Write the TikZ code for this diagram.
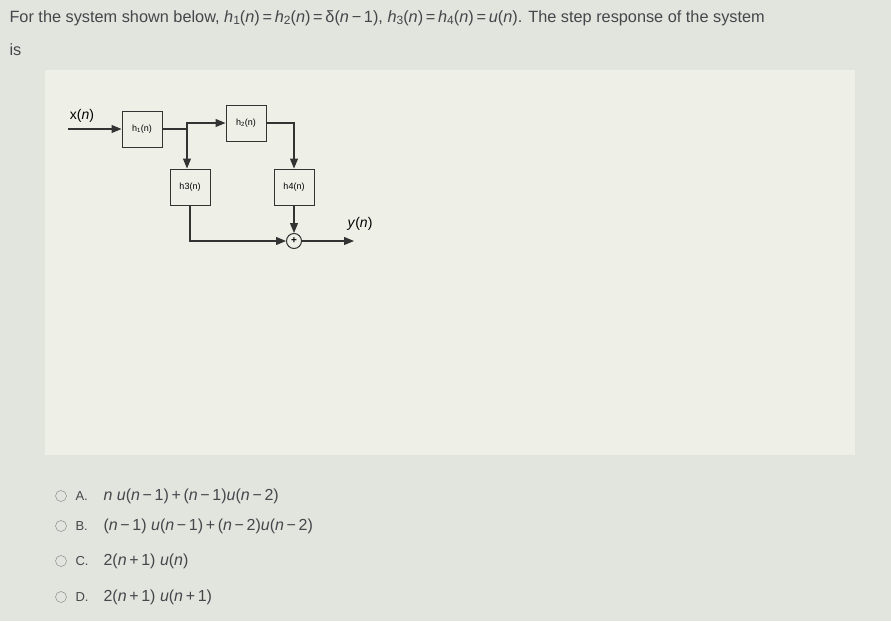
\documentclass[tikz,border=0pt]{standalone}
\usepackage{fontspec}
\setmainfont{Liberation Sans}
\usetikzlibrary{arrows.meta}
\definecolor{bg}{RGB}{226,228,222}
\definecolor{panel}{RGB}{238,240,232}
\definecolor{txt}{RGB}{70,70,75}
\newcommand{\vi}[1]{\textit{#1}}
\newcommand{\sbs}[1]{\raisebox{-0.3ex}{\fontsize{12}{12}\selectfont #1}}
\begin{document}
\begin{tikzpicture}[x=1pt,y=-1pt,
  blk/.style={draw=black!80,line width=1pt,minimum width=40pt,minimum height=36pt,inner sep=0pt,font=\fontsize{9}{10}\selectfont,fill=panel},
  con/.style={line width=1.1pt,draw=black!80},
  arr/.style={con,-{Triangle[length=10pt,width=8pt]}},
  q/.style={anchor=west,text=txt,font=\fontsize{16.3}{19}\selectfont},
  opt/.style={anchor=west,text=txt,font=\fontsize{16}{19}\selectfont}]
\fill[bg] (0,0) rectangle (891,621);
\fill[panel] (45,70) rectangle (855,455);
\node[q] (t1) at (6,18) {For the system shown below, \vi{h}\sbs{1}(\vi{n})\,=\,\vi{h}\sbs{2}(\vi{n})\,=\,δ(\vi{n}\,−\,1), \vi{h}\sbs{3}(\vi{n})\,=\,\vi{h}\sbs{4}(\vi{n})\,=\,\vi{u}(\vi{n}). The step response of the system};
\node[q] (t2) at (6,50) {is};
\node[blk] (h1) at (142,129) {h\textsubscript{1}(n)};
\node[blk] (h2) at (246,123) {h\textsubscript{2}(n)};
\node[blk] (h3) at (190,187) {h3(n)};
\node[blk] (h4) at (294,187) {h4(n)};
\node[draw=black!80,line width=1pt,circle,minimum size=15pt,inner sep=0pt,font=\bfseries] (s) at (294,241) {+};
\coordinate (xin) at (68,129);
\coordinate (j) at (187,129);
\coordinate (yout) at (354,241);
\node[font=\fontsize{14}{16}\selectfont] (xl) at (82,116) {x(\vi{n})};
\node[font=\fontsize{14}{16}\selectfont] (yl) at (360,224) {\vi{y}(\vi{n})};
\draw[arr] (xin) -- (h1.west);
\draw[con] (h1.east) -- (j);
\draw[arr] (j) -- (j|-h2.west) -- (h2.west);
\draw[arr] (j) -- (j|-h3.north);
\draw[arr] (h2.east) -| (h4.north);
\draw[arr] (h4.south) -- (s.north);
\draw[arr] (h3.south) |- (s.west);
\draw[arr] (s.east) -- (yout);
\foreach \y/\l/\tx [count=\i] in {496/A./{\vi{n} \vi{u}(\vi{n}\,−\,1)\,+\,(\vi{n}\,−\,1)\vi{u}(\vi{n}\,−\,2)},526/B./{(\vi{n}\,−\,1) \vi{u}(\vi{n}\,−\,1)\,+\,(\vi{n}\,−\,2)\vi{u}(\vi{n}\,−\,2)},561/C./{2(\vi{n}\,+\,1) \vi{u}(\vi{n})},597/D./{2(\vi{n}\,+\,1) \vi{u}(\vi{n}\,+\,1)}}{
  \node[draw=txt!70,circle,minimum size=11pt,inner sep=0pt] (r\i) at (61,\y) {};
  \node[opt,font=\fontsize{13}{15}\selectfont] (l\i) at (72,\y) {\l};
  \node[opt] (o\i) at (100,\y) {\tx};
}
\end{tikzpicture}
\end{document}
